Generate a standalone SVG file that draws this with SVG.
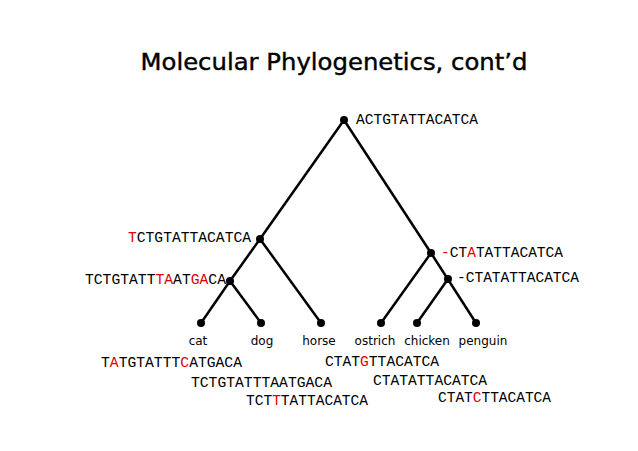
<svg xmlns="http://www.w3.org/2000/svg" width="638" height="451" viewBox="0 0 638 451">
<style>
.s{font-family:"Liberation Mono","DejaVu Sans Mono",monospace;font-size:15.5px;fill:#000}
.r{fill:#e00000}
.l{font-family:"DejaVu Sans","Liberation Sans",sans-serif;font-size:12px;text-anchor:middle}
line{stroke:#000;stroke-width:2.5}
circle{fill:#000}
</style>
<rect width="638" height="451" fill="#fff"/>
<text x="334" y="70" font-family="DejaVu Sans,sans-serif" font-size="22.5" stroke="#000" stroke-width="0.4" text-anchor="middle" textLength="387" lengthAdjust="spacingAndGlyphs">Molecular Phylogenetics, cont’d</text>
<g id="edges">
<line x1="344" y1="120" x2="260" y2="239"/>
<line x1="344" y1="120" x2="431" y2="253"/>
<line x1="260" y1="239" x2="230" y2="281"/>
<line x1="260" y1="239" x2="321" y2="323"/>
<line x1="230" y1="281" x2="201" y2="323"/>
<line x1="230" y1="281" x2="261" y2="323"/>
<line x1="431" y1="253" x2="381" y2="323"/>
<line x1="431" y1="253" x2="476" y2="323"/>
<line x1="448" y1="279" x2="417" y2="323"/>
</g>
<g id="root"><circle cx="344" cy="120" r="4"/><text class="s" x="356" y="124" textLength="122" lengthAdjust="spacingAndGlyphs">ACTGTATTACATCA</text></g>
<g id="n1"><circle cx="260" cy="239" r="4"/><text class="s" x="128" y="242" textLength="123" lengthAdjust="spacingAndGlyphs"><tspan class="r">T</tspan>CTGTATTACATCA</text></g>
<g id="n2"><circle cx="230" cy="281" r="4"/><text class="s" x="85" y="284" textLength="141" lengthAdjust="spacingAndGlyphs">TCTGTATT<tspan class="r">TA</tspan>AT<tspan class="r">GA</tspan>CA</text></g>
<g id="n3"><circle cx="431" cy="253" r="4"/><text class="s" x="441" y="257" textLength="122" lengthAdjust="spacingAndGlyphs"><tspan class="r">-</tspan>CT<tspan class="r">A</tspan>TATTACATCA</text></g>
<g id="n4"><circle cx="448" cy="279" r="4"/><text class="s" x="457" y="282" textLength="122" lengthAdjust="spacingAndGlyphs">-CTATATTACATCA</text></g>
<g id="cat"><circle cx="201" cy="323" r="4"/><text class="l" x="198" y="345">cat</text><text class="s" x="101" y="367" textLength="141" lengthAdjust="spacingAndGlyphs">T<tspan class="r">A</tspan>TGTATTT<tspan class="r">C</tspan>ATGACA</text></g>
<g id="dog"><circle cx="261" cy="323" r="4"/><text class="l" x="262" y="345">dog</text><text class="s" x="191" y="387" textLength="141" lengthAdjust="spacingAndGlyphs">TCTGTATTTAATGACA</text></g>
<g id="horse"><circle cx="321" cy="323" r="4"/><text class="l" x="319" y="345">horse</text><text class="s" x="246" y="405" textLength="122" lengthAdjust="spacingAndGlyphs">TCT<tspan class="r">T</tspan>TATTACATCA</text></g>
<g id="ostrich"><circle cx="381" cy="323" r="4"/><text class="l" x="375" y="345">ostrich</text><text class="s" x="325" y="366" textLength="114" lengthAdjust="spacingAndGlyphs">CTAT<tspan class="r">G</tspan>TTACATCA</text></g>
<g id="chicken"><circle cx="417" cy="323" r="4"/><text class="l" x="427" y="345">chicken</text><text class="s" x="373" y="385" textLength="114" lengthAdjust="spacingAndGlyphs">CTATATTACATCA</text></g>
<g id="penguin"><circle cx="476" cy="323" r="4"/><text class="l" x="483" y="345">penguin</text><text class="s" x="438" y="402" textLength="113" lengthAdjust="spacingAndGlyphs">CTAT<tspan class="r">C</tspan>TTACATCA</text></g>
</svg>
